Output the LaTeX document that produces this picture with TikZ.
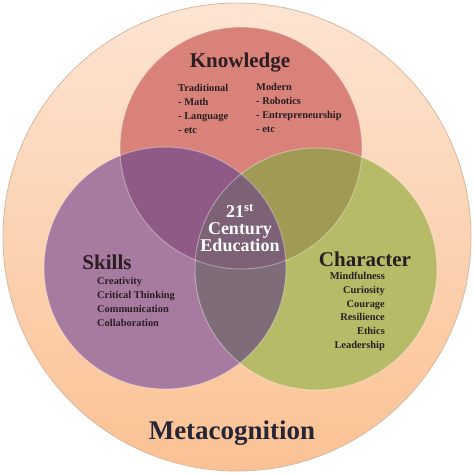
\documentclass[tikz,border=0pt]{standalone}
\usepackage{fontspec}
\setmainfont{Liberation Serif}
\definecolor{peachA}{HTML}{FDE4D2}
\definecolor{peachB}{HTML}{FBC294}
\definecolor{peachEdge}{HTML}{D8B79F}
\definecolor{knowC}{HTML}{D8827A}
\definecolor{skillC}{HTML}{A67B9F}
\definecolor{charC}{HTML}{B7BA66}
\definecolor{ksC}{HTML}{8F5A86}
\definecolor{kcC}{HTML}{A09A55}
\definecolor{scC}{HTML}{7E6C78}
\definecolor{allC}{HTML}{7C6177}
\definecolor{inkC}{HTML}{2A1E22}
\definecolor{metaC}{HTML}{262638}
\tikzset{
  title/.style={font=\bfseries\fontsize{21}{24}\selectfont, text=inkC, inner sep=0pt},
  item/.style={font=\bfseries\fontsize{10.4}{14}\selectfont, text=inkC, inner sep=0pt},
  rim/.style={draw=white, draw opacity=0.35, line width=1pt}
}
\begin{document}
\begin{tikzpicture}[x=1pt,y=-1pt]
\useasboundingbox (0,0) rectangle (474,474);
\fill[white] (0,0) rectangle (474,474);
% outer circle
\shade[top color=peachA, bottom color=peachB] (237,237) circle (234);
\draw[peachEdge, line width=0.8pt] (237,237) circle (234);
% three circles
\coordinate (K) at (241,148);
\coordinate (S) at (165,268);
\coordinate (C) at (316,269);
\fill[knowC] (K) circle (121);
\fill[skillC] (S) circle (121);
\fill[charC] (C) circle (121);
\begin{scope}
  \clip (K) circle (121);
  \fill[ksC] (S) circle (121);
  \fill[kcC] (C) circle (121);
\end{scope}
\begin{scope}
  \clip (S) circle (121);
  \fill[scC] (C) circle (121);
  \clip (K) circle (121);
  \fill[allC] (C) circle (121);
\end{scope}
\draw[rim] (K) circle (121);
\draw[rim] (S) circle (121);
\draw[rim] (C) circle (121);
% texts
\node[title] (know) at (240,63) {Knowledge};
\node[item, align=left, anchor=north west] (trad) at (178,84) {Traditional\\- Math\\- Language\\- etc};
\node[item, align=left, anchor=north west] (mod) at (256,83) {Modern\\- Robotics\\- Entrepreneurship\\- etc};
\node[title] (skills) at (107,262) {Skills};
\node[item, align=left, anchor=north west] (skl) at (97,277) {Creativity\\Critical Thinking\\Communication\\Collaboration};
\node[title] (char) at (365,259) {Character};
\node[item, align=right, anchor=north east, font=\bfseries\fontsize{10.4}{13.8}\selectfont] (chl) at (385,272) {Mindfulness\\Curiosity\\Courage\\Resilience\\Ethics\\Leadership};
\node[font=\bfseries\fontsize{18}{17}\selectfont, text=white, align=center, inner sep=0pt] (center) at (240,228) {21\textsuperscript{st}\\Century\\Education};
\node[font=\bfseries\fontsize{27}{30}\selectfont, text=metaC, inner sep=0pt] (meta) at (232,433) {Metacognition};
\end{tikzpicture}
\end{document}
